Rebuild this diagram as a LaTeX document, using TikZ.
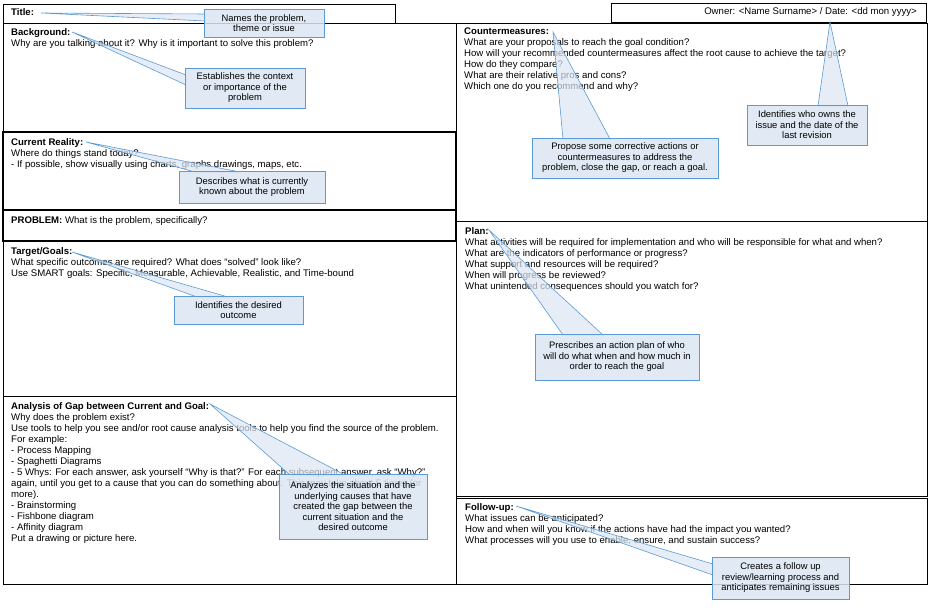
\documentclass[tikz,border=0pt]{standalone}
\usepackage{fontspec}
\setmainfont{Liberation Sans}
\usetikzlibrary{calc}

\definecolor{calloutfill}{HTML}{DCE6F2}
\definecolor{calloutline}{HTML}{5B9BD5}

\tikzset{
  sec/.style={draw=black, line width=0.8pt},
  secthick/.style={draw=black, line width=1.6pt},
  body/.style={anchor=north west, align=left, inner sep=0pt, font=\fontsize{9.6}{11}\selectfont},
  callout/.style={draw=calloutline, fill=calloutfill, fill opacity=0.85, text opacity=1,
    line width=0.7pt, align=center, inner sep=1pt, font=\fontsize{9.4}{10.5}\selectfont},
  pointer/.style={draw=calloutline, fill=calloutfill, fill opacity=0.7, line width=0.6pt},
}

\begin{document}
\begin{tikzpicture}[x=1pt, y=-1pt]
    \useasboundingbox (0,0) rectangle (931,610);

    %% Frames
    % header
    \draw[sec] (3,4) rectangle (395,23);
    \draw[sec] (611,3) rectangle (926,22);
    % left column
    \draw[sec] (3,23) rectangle (456,132);
    \draw[secthick] (3,132) rectangle (456,210);
    \draw[secthick] (3,210) rectangle (456,241);
    \draw[sec] (3,241) rectangle (456,396);
    \draw[sec] (3,396) rectangle (456,584);
    % right column
    \draw[sec] (456,23) rectangle (927,221);
    \draw[sec] (456,221) rectangle (927,496);
    \draw[sec] (456,498) rectangle (927,584);

    %% Section texts
    \node[body] (title) at (11,8) {\textbf{Title:}};
    \node[body, anchor=north east] (owner) at (917,7) {Owner: <Name Surname> / Date: <dd mon yyyy>};
    \node[body] (bg) at (11,28) {\textbf{Background:}\\
      Why are you talking about it? Why is it important to solve this problem?};
    \node[body] (cur) at (11,138) {\textbf{Current Reality:}\\
      Where do things stand today?\\
      - If possible, show visually using charts, graphs drawings, maps, etc.};
    \node[body] (prob) at (11,216) {\textbf{PROBLEM:} What is the problem, specifically?};
    \node[body] (goal) at (11,247) {\textbf{Target/Goals:}\\
      What specific outcomes are required? What does ``solved'' look like?\\
      Use SMART goals: Specific, Measurable, Achievable, Realistic, and Time-bound};
    \node[body] (gap) at (11,402) {\textbf{Analysis of Gap between Current and Goal:}\\
      Why does the problem exist?\\
      Use tools to help you see and/or root cause analysis tools to help you find the source of the problem.\\
      For example:\\
      - Process Mapping\\
      - Spaghetti Diagrams\\
      - 5 Whys: For each answer, ask yourself ``Why is that?'' For each subsequent answer, ask ``Why?''\\
      again, until you get to a cause that you can do something about. This may take about 5 times (or\\
      more).\\
      - Brainstorming\\
      - Fishbone diagram\\
      - Affinity diagram\\
      Put a drawing or picture here.};
    \node[body] (cm) at (464,28) {\textbf{Countermeasures:}\\
      What are your proposals to reach the goal condition?\\
      How will your recommended countermeasures affect the root cause to achieve the target?\\
      How do they compare?\\
      What are their relative pros and cons?\\
      Which one do you recommend and why?};
    \node[body] (plan) at (465,227) {\textbf{Plan:}\\
      What activities will be required for implementation and who will be responsible for what and when?\\
      What are the indicators of performance or progress?\\
      What support and resources will be required?\\
      When will progress be reviewed?\\
      What unintended consequences should you watch for?};
    \node[body] (fup) at (465,503) {\textbf{Follow-up:}\\
      What issues can be anticipated?\\
      How and when will you know if the actions have had the impact you wanted?\\
      What processes will you use to enable, ensure, and sustain success?};

    %% Callout pointers
    \draw[pointer] (41,13) -- (205,14) -- (205,21) -- cycle;
    \draw[pointer] (72,32) -- (186,75) -- (186,85) -- cycle;
    \draw[pointer] (86,142) -- (195,172) -- (240,172) -- cycle;
    \draw[pointer] (72,252) -- (197,297) -- (228,297) -- cycle;
    \draw[pointer] (210,404) -- (290,475) -- (345,475) -- cycle;
    \draw[pointer] (553,32) -- (563,139) -- (610,139) -- cycle;
    \draw[pointer] (830,22) -- (818,106) -- (848,106) -- cycle;
    \draw[pointer] (489,230) -- (563,335) -- (603,335) -- cycle;
    \draw[pointer] (516,506) -- (713,564) -- (713,575) -- cycle;

    %% Callout boxes
    \node[callout, minimum width=120, minimum height=28] (cTitle) at (264,23) {Names the problem,\\theme or issue};
    \node[callout, minimum width=120, minimum height=40] (cBg) at (245,88) {Establishes the context\\or importance of the\\problem};
    \node[callout, minimum width=146, minimum height=32] (cCur) at (252,187) {Describes what is currently\\known about the problem};
    \node[callout, minimum width=129, minimum height=28] (cGoal) at (238.5,310) {Identifies the desired\\outcome};
    \node[callout, minimum width=148, minimum height=65] (cGap) at (353,506.5) {Analyzes the situation and the\\underlying causes that have\\created the gap between the\\current situation and the\\desired outcome};
    \node[callout, minimum width=186, minimum height=40] (cCm) at (625,158) {Propose some corrective actions or\\countermeasures to address the\\problem, close the gap, or reach a goal.};
    \node[callout, minimum width=120, minimum height=40] (cOwner) at (807,125) {Identifies who owns the\\issue and the date of the\\last revision};
    \node[callout, minimum width=164, minimum height=46] (cPlan) at (617,357) {Prescribes an action plan of who\\will do what when and how much in\\order to reach the goal};
    \node[callout, minimum width=137, minimum height=42] (cFup) at (780.5,578) {Creates a follow up\\review/learning process and\\anticipates remaining issues};

\end{tikzpicture}
\end{document}
